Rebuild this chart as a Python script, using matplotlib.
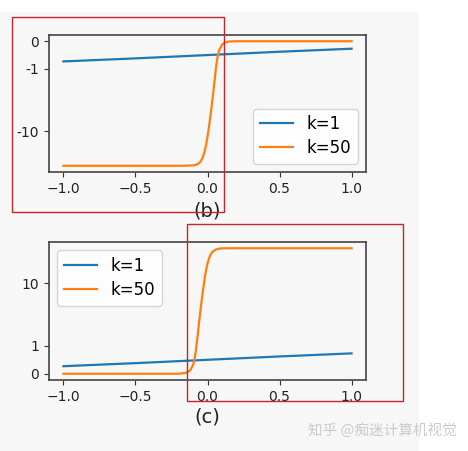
import matplotlib
matplotlib.use("Agg")
import matplotlib.pyplot as plt
from matplotlib.patches import Rectangle
from matplotlib.ticker import NullLocator

# values
labels = ["k=1", "k=50"]

x_k1 = [-1.0, -0.5, 0.0, 0.5, 1.0]
b_k1 = [-0.73, -0.62, -0.5, -0.38, -0.27]
c_k1 = [0.27, 0.38, 0.5, 0.62, 0.73]

x_b50 = [-1.0, -0.2, -0.15, -0.1, -0.08, -0.06, -0.05, -0.04, -0.03, -0.02, -0.01,
         0.0, 0.01, 0.02, 0.03, 0.04, 0.05, 0.06, 0.07, 0.08, 0.1, 0.12, 0.15, 0.2, 1.0]
b_k50 = [-36.0, -36.0, -35.9, -35.5, -34.8, -32.9, -31.1, -28.6, -25.2, -21.1, -16.7,
         -12.3, -8.6, -5.8, -3.7, -2.4, -1.48, -0.9, -0.56, -0.34, -0.13, -0.05, -0.01, 0.0, 0.0]

x_c50 = [-1.0, -0.2, -0.15, -0.12, -0.1, -0.09, -0.08, -0.07, -0.06, -0.05, -0.04, -0.03,
         -0.02, -0.01, 0.0, 0.01, 0.02, 0.03, 0.04, 0.06, 0.08, 0.1, 0.15, 1.0]
c_k50 = [0.0, 0.0, 0.03, 0.12, 0.32, 0.52, 0.85, 1.35, 2.2, 3.5, 5.4, 8.1,
         11.7, 16.0, 20.5, 24.6, 28.0, 30.6, 32.5, 34.6, 35.5, 35.9, 36.0, 36.0]

b_ticks = [0, -1, -10]
b_ticklabels = ["0", "-1", "-10"]
c_ticks = [0, 1, 10]
c_ticklabels = ["0", "1", "10"]
x_ticks = [-1.0, -0.5, 0.0, 0.5, 1.0]

W, H = 468, 451
fig = plt.figure(figsize=(W / 100, H / 100), dpi=100)
fig.patch.set_facecolor("white")

# light grey page behind the plots
fig.patches.append(Rectangle((0, 0), 419 / W, 1 - 12 / H, transform=fig.transFigure,
                             facecolor="#f7f7f7", edgecolor="none", zorder=-5))


def px_axes(l, t, r, b):
    return fig.add_axes([l / W, 1 - b / H, (r - l) / W, (b - t) / H])


def style(ax, ticks, ticklabels):
    ax.set_facecolor("none")
    ax.set_yscale("symlog", linthresh=1, linscale=0.4)
    ax.set_yticks(ticks)
    ax.set_yticklabels(ticklabels)
    ax.yaxis.set_minor_locator(NullLocator())
    ax.set_xticks(x_ticks)
    ax.tick_params(labelsize=10, colors="#333333", labelcolor="#222222")
    for s in ax.spines.values():
        s.set_color("#444444")
        s.set_linewidth(1.2)


ax1 = px_axes(49, 35, 366, 172)
ax1.plot(x_k1, b_k1, color="#1f77b4", lw=1.6, label=labels[0])
ax1.plot(x_b50, b_k50, color="#ff7f0e", lw=1.6, label=labels[1])
style(ax1, b_ticks, b_ticklabels)
ax1.legend(loc="lower right", fontsize=12, labelspacing=0.35)
fig.text(207 / W, 1 - 211 / H, "(b)", ha="center", va="center", fontsize=14, color="#222222")

ax2 = px_axes(49, 242, 366, 380)
ax2.plot(x_k1, c_k1, color="#1f77b4", lw=1.6, label=labels[0])
ax2.plot(x_c50, c_k50, color="#ff7f0e", lw=1.6, label=labels[1])
style(ax2, c_ticks, c_ticklabels)
ax2.legend(loc="upper left", fontsize=12, labelspacing=0.35)
fig.text(207 / W, 1 - 417 / H, "(c)", ha="center", va="center", fontsize=14, color="#222222")

# red highlight boxes
for (l, t, r, b) in [(12, 17, 224, 212), (187, 224, 403, 401)]:
    fig.patches.append(Rectangle((l / W, 1 - b / H), (r - l) / W, (b - t) / H,
                                 transform=fig.transFigure, facecolor="none",
                                 edgecolor="#c0282d", lw=1.0, zorder=10))

fig.text(457 / W, 1 - 430 / H, "知乎 @痴迷计算机视觉", ha="right", va="center",
         fontsize=10.5, color="#cacaca", family=["Noto Sans CJK SC", "DejaVu Sans"])

fig.savefig("out.png", dpi=100)
